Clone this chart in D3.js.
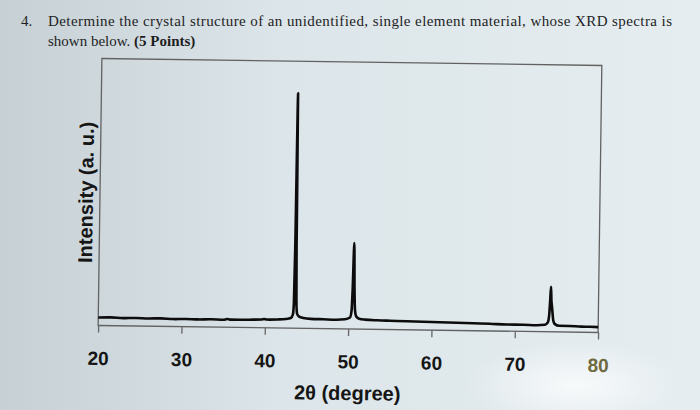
<!DOCTYPE html>
<html lang="en">
<head>
<meta charset="UTF-8">
<title>XRD spectra</title>
<style>
    body { margin:0; padding:0; background:#d9e1e5; }
    svg { display:block; }
    .axis text {
        font-family: "Liberation Sans", Arial, sans-serif;
        font-size:19px;
        font-weight:bold;
        fill:#151515;
    }
    .axis line { stroke:#666; stroke-width:1.3; }
    .title { font-family:"Liberation Serif", "Times New Roman", serif; font-size:15px; fill:#1e1e1e; }
</style>
</head>
<body>
<script src="https://cdn.jsdelivr.net/npm/d3@7/dist/d3.min.js"></script>
<script>
// 2theta (degree) and intensity (a.u., 0-100 of the frame height)
var twoTheta = [20.0,21.5,23.0,24.5,26.0,27.5,29.0,30.5,32.0,33.5,35.0,35.5,35.8,37.0,38.5,39.6,39.9,40.2,41.5,42.5,
    43.1,43.35,43.45,43.52,43.6,43.68,43.75,43.85,44.1,44.6,45.5,47.0,48.5,49.6,
    50.2,50.38,50.48,50.6,50.7,50.8,50.95,51.3,52.0,53.5,55.0,57.0,59.0,61.0,63.0,65.0,67.0,69.0,71.0,72.5,
    73.6,73.95,74.1,74.2,74.28,74.34,74.42,74.5,74.6,74.8,75.3,76.5,78.0,79.0,80.0];
var intensity = [3.0,3.1,2.9,3.0,2.9,3.0,2.8,2.9,2.8,2.9,2.8,3.1,2.9,2.9,3.0,3.1,3.3,3.1,3.2,3.4,
    3.8,5.2,9.5,30,88,30,9.5,5.4,4.4,3.9,3.6,3.5,3.4,3.6,
    4.3,6.8,15,32.2,15,6.8,4.7,3.9,3.6,3.4,3.3,3.2,3.1,3.0,2.9,2.8,2.7,2.5,2.5,2.4,
    2.6,3.5,6.2,12,16.9,12,9.5,7,4.2,2.9,2.3,2.3,2.1,2.1,2.0];
var xTicks = [20,30,40,50,60,70,80];
var xTitle = "2\u03b8 (degree)";
var yTitle = "Intensity (a. u.)";
var line1 = "Determine the crystal structure of an unidentified, single element material, whose XRD spectra is";
var line2a = "shown below. ";
var line2b = "(5 Points)";

var w = 700, h = 410;
var pLeft = 100, pRight = 600, pTop = 62, pBottom = 329;

var svg = d3.select("body").append("svg").attr("width",w).attr("height",h);

// paper lighting
var defs = svg.append("defs");
var lg = defs.append("linearGradient").attr("id","paper").attr("x1","0").attr("x2","1").attr("y1","0").attr("y2","0");
lg.append("stop").attr("offset","0%").attr("stop-color","#c6d0d5");
lg.append("stop").attr("offset","40%").attr("stop-color","#dce5e9");
lg.append("stop").attr("offset","100%").attr("stop-color","#e5edf0");
var rg = defs.append("radialGradient").attr("id","glare");
rg.append("stop").attr("offset","0%").attr("stop-color","#ffffff").attr("stop-opacity",0.75);
rg.append("stop").attr("offset","100%").attr("stop-color","#ffffff").attr("stop-opacity",0);

svg.append("rect").attr("width",w).attr("height",h).attr("fill","url(#paper)");
svg.append("ellipse").attr("cx",575).attr("cy",385).attr("rx",110).attr("ry",45).attr("fill","url(#glare)");

// question text (kept level)
svg.append("text").attr("class","title").attr("x",21).attr("y",26).text("4.");
svg.append("text").attr("class","title").attr("x",48).attr("y",26)
    .attr("textLength",624).attr("lengthAdjust","spacing").text(line1);
var t2 = svg.append("text").attr("class","title").attr("x",48).attr("y",46);
t2.append("tspan").text(line2a);
t2.append("tspan").attr("font-weight","bold").text(line2b);

// the photo is turned a little, so is the chart
var g = svg.append("g").attr("transform","rotate(0.8,350,195)");

var xScale = d3.scaleLinear().domain([20,80]).range([pLeft,pRight]);
var yScale = d3.scaleLinear().domain([0,100]).range([pBottom,pTop]);

// frame
g.append("rect").attr("x",pLeft).attr("y",pTop).attr("width",pRight-pLeft).attr("height",pBottom-pTop)
    .attr("fill","none").attr("stroke","#626262").attr("stroke-width",1.3);

var xAxis = d3.axisBottom(xScale).tickValues(xTicks).tickSize(7).tickPadding(19).tickFormat(d3.format("d"));
var ax = g.append("g").attr("class","axis").attr("transform","translate(0,"+pBottom+")").call(xAxis);
ax.select(".domain").remove();
ax.selectAll(".tick text").filter(function (d) { return d === 80; }).style("fill","#6f6a40");

// spectrum
var data = twoTheta.map(function (d,i) { return [d,intensity[i]]; });
var line = d3.line()
    .x(function (d) { return xScale(d[0]); })
    .y(function (d) { return yScale(d[1]); })
    .curve(d3.curveMonotoneX);
g.append("path").datum(data).attr("d",line)
    .attr("fill","none").attr("stroke","#0c0c0c").attr("stroke-width",2.6).attr("stroke-linejoin","round");

// axis titles
g.append("text").attr("x",(pLeft+pRight)/2).attr("y",400).attr("text-anchor","middle")
    .style("font-family","'Liberation Sans', Arial, sans-serif").style("font-size","20px").style("font-weight","bold")
    .attr("fill","#151515").text(xTitle);
g.append("text").attr("transform","translate(93,196) rotate(-90)").attr("text-anchor","middle")
    .style("font-family","'Liberation Sans', Arial, sans-serif").style("font-size","20px").style("font-weight","bold")
    .attr("fill","#151515").text(yTitle);
</script>
</body>
</html>
